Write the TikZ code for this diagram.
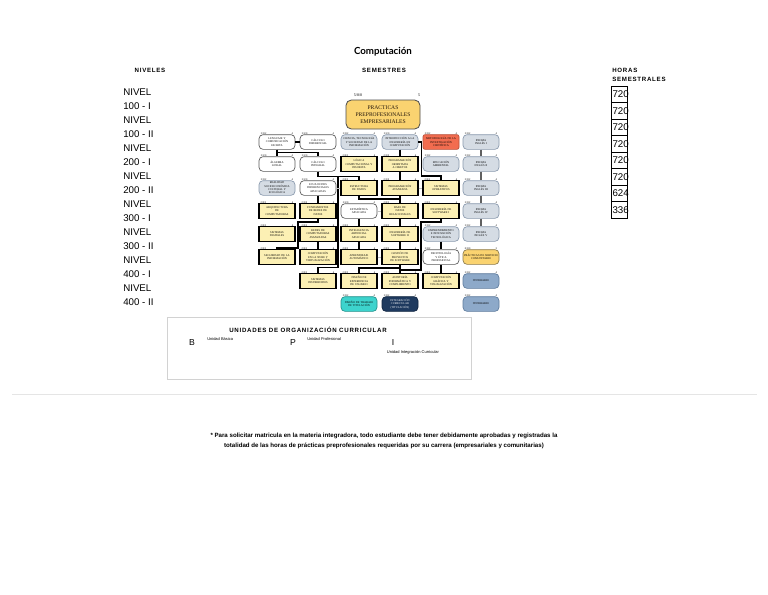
\documentclass[tikz,border=0pt]{standalone}
\usepackage{fontspec}
\setmainfont{Liberation Serif}
\setsansfont{Liberation Sans}
\newfontfamily\latofont{Lato}
\newfontfamily\hdrfont[LetterSpace=12]{Liberation Sans}
\usetikzlibrary{calc}
\definecolor{gbfill}{HTML}{D5DCE4}
\definecolor{gbdraw}{HTML}{8A9AAE}
\definecolor{ylfill}{HTML}{FCF0B4}
\definecolor{orfill}{HTML}{F26C4F}
\definecolor{ordraw}{HTML}{B8503A}
\definecolor{gofill}{HTML}{FAD370}
\definecolor{godraw}{HTML}{8C7A4A}
\definecolor{stfill}{HTML}{8DA9C9}
\definecolor{stdraw}{HTML}{5F7C9E}
\definecolor{tlfill}{HTML}{3DD3CD}
\definecolor{tldraw}{HTML}{23918C}
\definecolor{nvfill}{HTML}{1E3A5F}
\definecolor{nvdraw}{HTML}{0F2440}
\tikzset{
  cell/.style={minimum width=27pt, minimum height=11pt, inner sep=0pt, align=center,
    text width=26pt, font=\fontsize{2.1}{2.5}\selectfont, line width=0.5pt},
  wb/.style={cell, draw=gray!70!black, fill=white, rounded corners=3pt},
  gb/.style={cell, draw=gbdraw, fill=gbfill, rounded corners=3pt},
  yb/.style={cell, draw=black, fill=ylfill, line width=0.8pt},
  ob/.style={cell, draw=ordraw, fill=orfill, rounded corners=1.5pt},
  gob/.style={cell, draw=godraw, fill=gofill, rounded corners=3pt},
  sb/.style={cell, draw=stdraw, fill=stfill, rounded corners=3pt},
  tb/.style={cell, draw=tldraw, fill=tlfill, rounded corners=3pt},
  nb/.style={cell, draw=nvdraw, fill=nvfill, text=white, rounded corners=3pt},
  tag/.style={inner sep=0pt, font=\fontsize{2}{2}\selectfont},
  conn/.style={line width=1pt, draw=black},
  gconn/.style={line width=0.7pt, draw=gray!50},
  dconn/.style={line width=0.8pt, draw=gray!75!black},
  lvl/.style={inner sep=0pt, font=\sffamily\fontsize{7.3}{8}\selectfont},
  hbox/.style={draw, line width=0.6pt, minimum width=12pt, minimum height=12.375pt, inner sep=0pt},
  hdr/.style={inner sep=0pt, font=\hdrfont\bfseries\fontsize{4.6}{5}\selectfont},
}
\newcommand\cellbox[7]{%
  \node[#4] (#1) at (#2,#3) {#5};
  \node[tag, anchor=south west] (#1a) at ($(#1.north west)+(2,0.8)$) {#6};
  \node[tag, anchor=south east] (#1b) at ($(#1.north east)+(-2,0.8)$) {#7};
}
\begin{document}
\begin{tikzpicture}[x=0.75pt,y=-0.75pt]
\useasboundingbox (0,0) rectangle (768,594);
\fill[white] (0,0) rectangle (768,594);

% titles
\node[inner sep=0pt, font=\latofont\bfseries\fontsize{7.3}{8}\selectfont] (title) at (383,52) {Computación};
\node[hdr] (hniv) at (150,70) {NIVELES};
\node[hdr] (hsem) at (384,70) {SEMESTRES};
\node[hdr, anchor=west] (hhor) at (612,70) {HORAS};
\node[hdr, anchor=west] (hsms) at (612,79) {SEMESTRALES};

% levels
\foreach \t [count=\i] in {NIVEL,100 - I,NIVEL,100 - II,NIVEL,200 - I,NIVEL,200 - II,NIVEL,300 - I,NIVEL,300 - II,NIVEL,400 - I,NIVEL,400 - II}
  \node[lvl, anchor=base west] (lv\i) at (123,{95.5+14*(\i-1)}) {\t};

% hours
\foreach \h [count=\i] in {720,720,720,720,720,720,624,336}{
  \node[hbox] (hb\i) at (619,{94.25+16.5*(\i-1)}) {};
  \node[lvl, anchor=west] (ht\i) at (612.3,{94.25+16.5*(\i-1)}) {\h};
}

% big box
\node[draw=gray!60!black, fill=gofill, rounded corners=4pt, line width=0.6pt,
      minimum width=55.5pt, minimum height=21.75pt, inner sep=0pt, align=center,
      text=black!80!brown, font=\fontsize{4.2}{5.2}\selectfont] (pp) at (383,114.5)
      {PRACTICAS\\PREPROFESIONALES\\EMPRESARIALES};
\node[tag, font=\fontsize{3}{3}\selectfont] (ppa) at (358,95) {5/8/0};
\node[tag, font=\fontsize{3}{3}\selectfont] (ppb) at (419,95) {5};

% row 1
\cellbox{n11}{277}{142}{wb}{LENGUAJE Y\\COMUNICACIÓN\\ESCRITA}{2/0/2}{4}
\cellbox{n21}{318}{142}{wb}{CÁLCULO\\DIFERENCIAL}{2/2/0}{4}
\cellbox{n31}{359}{142}{gb}{CIENCIA, TECNOLOGÍA\\Y SOCIEDAD DE LA\\INFORMACIÓN}{2/0/2}{4}
\cellbox{n41}{400}{142}{gb}{INTRODUCCIÓN A LA\\INGENIERÍA EN\\COMPUTACIÓN}{2/2/0}{4}
\cellbox{n51}{441}{142}{ob}{METODOLOGÍA DE LA\\INVESTIGACIÓN\\CIENTÍFICA}{2/0/2}{4}
\cellbox{n61}{481}{142}{gb}{IDIOMA\\INGLÉS I}{2/0/2}{4}
% row 2
\cellbox{n12}{277}{164}{wb}{ÁLGEBRA\\LINEAL}{2/2/0}{4}
\cellbox{n22}{318}{164}{wb}{CÁLCULO\\INTEGRAL}{2/2/0}{4}
\cellbox{n32}{359}{164}{yb}{LÓGICA\\COMPUTACIONAL Y\\DISCRETA}{2/0/2}{4}
\cellbox{n42}{400}{164}{yb}{PROGRAMACIÓN\\ORIENTADA\\A OBJETOS}{2/2/0}{4}
\cellbox{n52}{441}{164}{gb}{EDUCACIÓN\\AMBIENTAL}{2/0/2}{4}
\cellbox{n62}{481}{164}{gb}{IDIOMA\\INGLÉS II}{2/0/2}{4}
% row 3
\cellbox{n13}{277}{188}{gb}{REALIDAD\\SOCIOECONÓMICA\\CULTURAL Y\\ECOLÓGICA}{2/0/2}{4}
\cellbox{n23}{318}{188}{wb}{ECUACIONES\\DIFERENCIALES\\APLICADAS}{2/2/0}{4}
\cellbox{n33}{359}{188}{yb}{ESTRUCTURA\\DE DATOS}{2/0/2}{4}
\cellbox{n43}{400}{188}{yb}{PROGRAMACIÓN\\AVANZADA}{2/2/0}{4}
\cellbox{n53}{441}{188}{yb}{SISTEMAS\\OPERATIVOS}{2/0/2}{4}
\cellbox{n63}{481}{188}{gb}{IDIOMA\\INGLÉS III}{2/0/2}{4}
% row 4
\cellbox{n14}{277}{211}{yb}{ARQUITECTURA\\DE\\COMPUTADORAS}{2/0/2}{4}
\cellbox{n24}{318}{211}{yb}{FUNDAMENTOS\\DE REDES DE\\DATOS}{2/2/0}{4}
\cellbox{n34}{359}{211}{wb}{ESTADÍSTICA\\APLICADA}{2/2/0}{4}
\cellbox{n44}{400}{211}{yb}{BASE DE\\DATOS\\RELACIONALES}{2/0/2}{4}
\cellbox{n54}{441}{211}{yb}{INGENIERÍA DE\\SOFTWARE I}{2/0/2}{4}
\cellbox{n64}{481}{211}{gb}{IDIOMA\\INGLÉS IV}{2/0/2}{4}
% row 5
\cellbox{n15}{277}{234}{yb}{SISTEMAS\\DIGITALES}{2/0/2}{4}
\cellbox{n25}{318}{234}{yb}{REDES DE\\COMPUTADORAS\\AVANZADAS}{2/0/2}{4}
\cellbox{n35}{359}{234}{yb}{INTELIGENCIA\\ARTIFICIAL\\APLICADA}{2/0/2}{4}
\cellbox{n45}{400}{234}{yb}{INGENIERÍA DE\\SOFTWARE II}{2/0/2}{4}
\cellbox{n55}{441}{234}{gb}{EMPRENDIMIENTO\\E INNOVACIÓN\\TECNOLÓGICA}{2/0/2}{4}
\cellbox{n65}{481}{234}{gb}{IDIOMA\\INGLÉS V}{2/0/2}{4}
% row 6
\cellbox{n16}{277}{257}{yb}{SEGURIDAD DE LA\\INFORMACIÓN}{2/0/2}{4}
\cellbox{n26}{318}{257}{yb}{COMPUTACIÓN\\EN LA NUBE Y\\VIRTUALIZACIÓN}{2/0/2}{4}
\cellbox{n36}{359}{257}{yb}{APRENDIZAJE\\AUTOMÁTICO}{2/0/2}{4}
\cellbox{n46}{400}{257}{yb}{GESTIÓN DE\\PROYECTOS\\DE SOFTWARE}{2/0/2}{4}
\cellbox{n56}{441}{257}{wb}{DEONTOLOGÍA\\Y ÉTICA\\PROFESIONAL}{2/0/2}{4}
\cellbox{n66}{481}{257}{gob}{PRÁCTICAS DE SERVICIO\\COMUNITARIO}{0/0/0}{3}
% row 7
\cellbox{n27}{318}{281}{yb}{SISTEMAS\\DISTRIBUIDOS}{2/0/2}{4}
\cellbox{n37}{359}{281}{yb}{DISEÑO DE\\EXPERIENCIA\\DE USUARIO}{2/0/2}{4}
\cellbox{n47}{400}{281}{yb}{AUDITORÍA\\INFORMÁTICA Y\\CUMPLIMIENTO}{2/0/2}{4}
\cellbox{n57}{441}{281}{yb}{COMPUTACIÓN\\GRÁFICA Y\\VISUALIZACIÓN}{2/0/2}{4}
\cellbox{n67}{481}{281}{sb}{ITINERARIO}{2/0/2}{4}
% row 8
\cellbox{n38}{359}{304}{tb}{DISEÑO DE TRABAJO\\DE TITULACIÓN}{2/0/2}{4}
\cellbox{n48}{400}{304}{nb}{INTEGRACIÓN\\CURRICULAR\\(TITULACIÓN)}{2/0/2}{4}
\cellbox{n68}{481}{304}{sb}{ITINERARIO}{2/0/2}{4}

% connectors
\draw[conn] (n11.east) -- (n21.west);
\draw[conn] (n11.south) -- (n12.north);
\draw[conn] (n11.south) -- ++(0,2.5) -| (n22.north);
\draw[conn] (n22.south) -- ++(0,5) -| (n33.north);
\draw[conn] (n22.south) -- ++(0,5) -- ++(20,0) -- ++(0,90.5) -| (n27.north);
\draw[conn] (n41.south) -- (n42.north);
\draw[conn] (n41.east) -- ++(3,0) -- ++(0,34) -| (n53.north);
\draw[conn] (n42.south) -- (n43.north);
\draw[conn] (n43.south) -- (n44.north);
\draw[conn] (n33.south) -- ++(0,3) -| (n44.north);
\draw[conn] (n44.south) -- (n45.north);
\draw[conn] (n45.south) -- (n46.north);
\draw[conn] (n23.south) -- (n24.north);
\draw[conn] (n24.south) -- ++(0,3) -- ++(-20,0) -- ++(0,26) -| (n16.north);
\draw[conn] (n25.south) -- (n26.north);
\draw[conn] (n34.south) -- (n35.north);
\draw[conn] (n35.south) -- (n36.north);
\draw[conn] (n46.south) -- ++(0,3) -| (n37.north);
\draw[conn] (n54.south) -- ++(0,3) -- ++(-20,0) -- ++(0,48) -| (n47.north);
\draw[conn] (n55.south) -- (n56.north);
\draw[conn] (n56.south) -- (n57.north);
\draw[dconn] (n61.south) -- (n62.north);
\draw[dconn] (n62.south) -- (n63.north);
\draw[dconn] (n63.south) -- (n64.north);
\draw[dconn] (n64.south) -- (n65.north);
\draw[gconn] (n23.east) -- (n33.west);
\draw[gconn] (n43.east) -- (n53.west);
\draw[gconn] (n34.east) -- (n44.west);
\draw[gconn] (n36.east) -- (n46.west);

% legend
\draw[gray!35, line width=0.6pt] (167,317) rectangle (471,379);
\node[hdr] (lgt) at (308,330) {UNIDADES DE ORGANIZACIÓN CURRICULAR};
\node[inner sep=0pt, font=\sffamily\fontsize{6.5}{7}\selectfont] (lgb) at (192,343) {B};
\node[inner sep=0pt, anchor=west, font=\sffamily\fontsize{3}{3}\selectfont] (lgbt) at (207,339) {Unidad Básica};
\node[inner sep=0pt, font=\sffamily\fontsize{6.5}{7}\selectfont] (lgp) at (293,343) {P};
\node[inner sep=0pt, anchor=west, font=\sffamily\fontsize{3}{3}\selectfont] (lgpt) at (307,339) {Unidad Profesional};
\node[inner sep=0pt, font=\sffamily\fontsize{6.5}{7}\selectfont] (lgi) at (393,343) {I};
\node[inner sep=0pt, font=\sffamily\fontsize{3}{3}\selectfont] (lgit) at (413,352) {Unidad Integración Curricular};

% separator
\draw[gray!20, line width=0.6pt] (12,394) -- (757,394);

% footnote
\node[inner sep=0pt, align=center, font=\sffamily\bfseries\fontsize{4.6}{7.5}\selectfont] (foot) at (384,441)
  {* Para solicitar matricula en la materia integradora, todo estudiante debe tener debidamente aprobadas y registradas la\\
   totalidad de las horas de prácticas preprofesionales requeridas por su carrera (empresariales y comunitarias)};
\end{tikzpicture}
\end{document}
